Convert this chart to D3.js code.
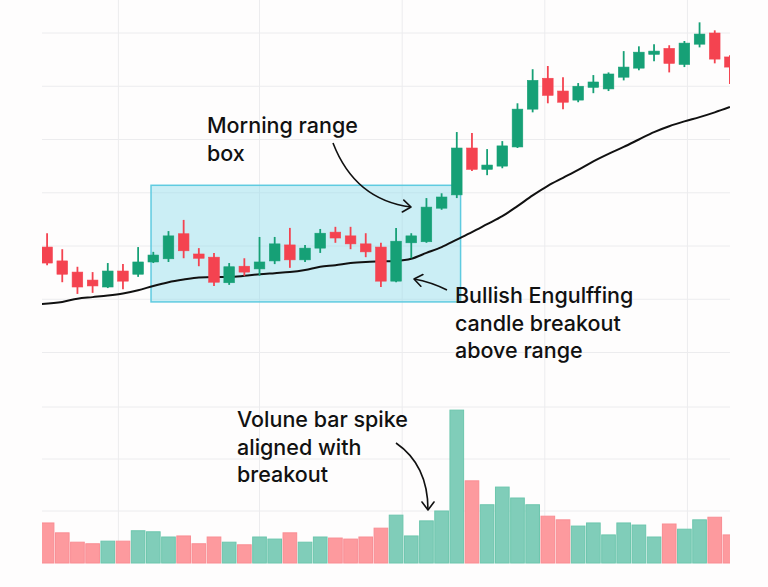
<!DOCTYPE html>
<html>
<head>
<meta charset="utf-8">
<script src="https://d3js.org/d3.v7.min.js"></script>
<style>
  body { margin: 0; background: #fefdfd; }
  svg { display: block; }
  text { font-family: Inter, "Noto Sans", sans-serif; }
</style>
</head>
<body>
<svg id="canvas" width="768" height="587"></svg>
<script>
//candle data, one value per bar
var openP = [99.8, 97.2, 95.1, 93.6, 92.3, 95.3, 94.7, 97.0, 97.6, 102.3, 98.5, 97.9, 93.1, 96.2, 95.7, 97.2, 100.2, 97.4, 99.6, 102.6, 101.9, 100.4, 99.8, 93.4, 100.6, 100.8, 107.1, 109.6, 118.4, 114.4, 115.0, 118.6, 125.7, 131.5, 129.1, 127.4, 129.8, 129.5, 131.7, 133.4, 136.0, 137.1, 134.1, 137.9, 140.0, 135.5];
var highP = [102.4, 99.4, 96.1, 95.1, 96.8, 96.6, 99.8, 98.9, 102.8, 104.9, 99.6, 98.7, 96.8, 97.7, 101.7, 101.7, 103.4, 100.2, 103.2, 103.6, 103.6, 102.4, 100.6, 103.4, 102.4, 109.0, 109.9, 121.4, 121.2, 118.2, 119.7, 126.8, 133.2, 133.8, 131.7, 130.6, 132.1, 132.6, 136.6, 137.5, 137.9, 137.7, 138.5, 142.0, 140.5, 135.8];
var lowP = [96.4, 93.2, 91.0, 91.2, 92.1, 91.9, 94.2, 96.8, 97.0, 97.7, 96.2, 92.5, 92.7, 94.4, 94.4, 96.6, 95.9, 97.0, 98.7, 100.6, 99.4, 97.9, 92.3, 93.2, 97.7, 100.6, 106.8, 109.0, 114.1, 113.3, 114.6, 118.4, 125.1, 126.8, 125.7, 127.0, 128.7, 129.1, 131.1, 133.0, 134.7, 132.6, 133.6, 137.3, 134.3, 130.4];
var closeP = [96.8, 94.7, 92.3, 92.5, 95.3, 93.4, 97.0, 98.3, 101.9, 99.1, 97.7, 93.2, 96.1, 95.1, 97.0, 100.4, 97.4, 99.6, 102.4, 101.5, 100.4, 98.9, 93.4, 100.9, 101.9, 107.3, 109.2, 118.4, 114.4, 115.2, 118.8, 125.7, 131.1, 128.3, 127.0, 130.0, 130.8, 132.3, 133.6, 136.4, 136.6, 134.3, 138.1, 139.8, 135.1, 133.6];
//moving average drawn as the black line
var maLine = [89.1, 89.5, 90.1, 90.4, 90.7, 91.1, 91.7, 92.5, 93.2, 93.7, 94.1, 94.2, 94.2, 94.4, 94.7, 94.9, 95.1, 95.5, 96.1, 96.4, 96.8, 97.0, 97.1, 97.2, 97.6, 98.7, 99.8, 101.2, 102.6, 104.1, 105.6, 107.5, 109.5, 111.3, 112.8, 114.3, 115.9, 117.3, 118.6, 120.0, 121.4, 122.5, 123.4, 124.2, 125.1, 126.1];
var volume = [770, 580, 400, 370, 420, 420, 620, 600, 500, 520, 370, 500, 400, 350, 500, 460, 580, 400, 500, 480, 460, 500, 670, 920, 520, 810, 1000, 2940, 1580, 1120, 1460, 1250, 1120, 900, 830, 710, 770, 540, 770, 730, 500, 750, 650, 830, 880, 540];

//grid ticks
var priceTicks = [80, 90, 100, 110, 120, 130, 140];
var volTicks = [1000, 2000, 3000];
var timeTicks = [4.7, 14, 23.4, 32.8, 42.2]; //in bar units

//the morning range: first and last bar, price low and high
var rangeBox = { from: 7, to: 27, low: 89.5, high: 111.4 };

var canvas = d3.select('#canvas');
var width = +canvas.attr('width');
var height = +canvas.attr('height');

var margin = { 'left': 42, 'right': 38, 'top': 0, 'bottom': 24 };

var bars = openP.map(function(o, i) {
  return { i: i, o: o, h: highP[i], l: lowP[i], c: closeP[i], v: volume[i], ma: maLine[i] };
});

var green = '#16a076', red = '#f44350';
var volGreen = '#80cdb9', volRed = '#fd9a9e';

//scales
var x = d3.scaleBand()
  .domain(d3.range(bars.length))
  .range([39.5, 737.5]);
var step = x.bandwidth();
function cx(i) { return x(i) + step / 2; }
var xLin = d3.scaleLinear()
  .domain([0, bars.length - 1])
  .range([cx(0), cx(bars.length - 1)]);

var yP = d3.scaleLinear().domain([80, 140]).range([352.5, 33]);
var yV = d3.scaleLinear().domain([0, 3000]).range([563, 407]);

//clip everything to the plot area
var defs = canvas.append('defs');
defs.append('clipPath').attr('id', 'plot')
  .append('rect')
  .attr('x', margin.left).attr('y', 0)
  .attr('width', width - margin.left - margin.right)
  .attr('height', height);

defs.append('marker')
  .attr('id', 'arrow')
  .attr('markerUnits', 'userSpaceOnUse')
  .attr('markerWidth', 14).attr('markerHeight', 14)
  .attr('refX', 10).attr('refY', 7)
  .attr('orient', 'auto')
  .append('path')
  .attr('d', 'M2,1 L10,7 L2,13')
  .style('fill', 'none')
  .style('stroke', '#111')
  .style('stroke-width', 1.6)
  .style('stroke-linecap', 'round')
  .style('stroke-linejoin', 'round');

//grid
var grid = canvas.append('g').style('stroke', '#ececee').style('stroke-width', 1);
grid.selectAll('hline')
  .data(priceTicks.map(yP).concat(volTicks.map(yV)))
  .enter().append('line')
  .attr('x1', margin.left).attr('x2', width - margin.right)
  .attr('y1', function(d) { return d; }).attr('y2', function(d) { return d; });
grid.selectAll('vline')
  .data(timeTicks)
  .enter().append('line')
  .attr('x1', function(d) { return xLin(d); }).attr('x2', function(d) { return xLin(d); })
  .attr('y1', 0).attr('y2', yV(0));

var plot = canvas.append('g').attr('clip-path', 'url(#plot)');

//morning range box
plot.append('rect')
  .attr('x', xLin(rangeBox.from - 0.15))
  .attr('y', yP(rangeBox.high))
  .attr('width', xLin(rangeBox.to + 0.25) - xLin(rangeBox.from - 0.15))
  .attr('height', yP(rangeBox.low) - yP(rangeBox.high))
  .style('fill', '#8ddbec')
  .style('fill-opacity', 0.45)
  .style('stroke', '#5fcbe0')
  .style('stroke-width', 1.5);

//moving average, drawn from the left edge of the first bar
plot.append('path')
  .datum(bars)
  .attr('d', d3.line()
    .x(function(d) { return d.i === 0 ? x(0) : cx(d.i); })
    .y(function(d) { return yP(d.ma); })
    .curve(d3.curveMonotoneX))
  .style('fill', 'none')
  .style('stroke', '#111')
  .style('stroke-width', 2);

//candles
var candles = plot.selectAll('candle')
  .data(bars)
  .enter().append('g')
  .style('fill', function(d) { return d.c >= d.o ? green : red; })
  .style('stroke', function(d) { return d.c >= d.o ? green : red; });

candles.append('line')
  .attr('x1', function(d) { return cx(d.i); })
  .attr('x2', function(d) { return cx(d.i); })
  .attr('y1', function(d) { return yP(d.h); })
  .attr('y2', function(d) { return yP(d.l); })
  .style('stroke-width', 1.8);

var bodyW = step * 0.7;
candles.append('rect')
  .attr('x', function(d) { return cx(d.i) - bodyW / 2; })
  .attr('y', function(d) { return yP(Math.max(d.o, d.c)); })
  .attr('width', bodyW)
  .attr('height', function(d) { return Math.max(1.5, Math.abs(yP(d.o) - yP(d.c))); })
  .style('stroke-width', 0.6);

//volume bars
var volW = step * 0.9;
plot.selectAll('vol')
  .data(bars)
  .enter().append('rect')
  .attr('x', function(d) { return cx(d.i) - volW / 2; })
  .attr('y', function(d) { return yV(d.v); })
  .attr('width', volW)
  .attr('height', function(d) { return yV(0) - yV(d.v); })
  .style('fill', function(d) { return d.c >= d.o ? volGreen : volRed; })
  .style('stroke', function(d) { return d.c >= d.o ? '#6cc6ad' : '#f98d93'; })
  .style('stroke-width', 1);

//annotations
var notes = [
  { lines: ['Morning range', 'box'], x: 207, y: 133 },
  { lines: ['Bullish Engulffing', 'candle breakout', 'above range'], x: 455, y: 303 },
  { lines: ['Volune bar spike', 'aligned with', 'breakout'], x: 237, y: 427 }
];
notes.forEach(function(n) {
  var t = canvas.append('text')
    .attr('x', n.x).attr('y', n.y)
    .style('font-size', '21.5px')
    .style('font-weight', 500)
    .style('fill', '#111');
  n.lines.forEach(function(s, k) {
    t.append('tspan').attr('x', n.x).attr('dy', k === 0 ? 0 : 27.5).text(s);
  });
});

var arrows = [
  'M333,143 Q355,200 411,207',
  'M447,290 Q431,282 414,279',
  'M396,443 Q428,465 428,510'
];
canvas.selectAll('arrow')
  .data(arrows)
  .enter().append('path')
  .attr('d', function(d) { return d; })
  .attr('marker-end', 'url(#arrow)')
  .style('fill', 'none')
  .style('stroke', '#111')
  .style('stroke-width', 1.6);
</script>
</body>
</html>
